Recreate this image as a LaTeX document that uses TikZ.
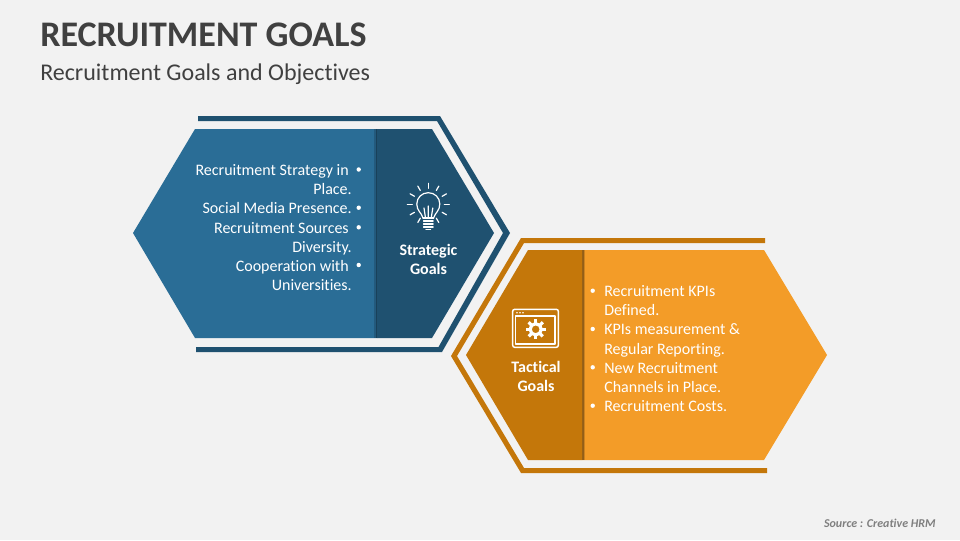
\documentclass[tikz,border=0pt]{standalone}
\usepackage{fontspec}
\setmainfont{Carlito}[Ligatures=NoCommon]
\usetikzlibrary{calc}
\definecolor{pagegray}{HTML}{F2F2F2}
\definecolor{bluelight}{HTML}{2A6D96}
\definecolor{bluedark}{HTML}{1F5170}
\definecolor{orangelight}{HTML}{F39C28}
\definecolor{orangedark}{HTML}{C4770A}
\definecolor{titlegray}{HTML}{404040}
\definecolor{sourcegray}{HTML}{7F7F7F}
\tikzset{
	itemtext/.style={text=white,font=\fontsize{12}{14}\selectfont,inner sep=0pt},
	headtext/.style={text=white,font=\fontsize{12}{14}\selectfont\bfseries,inner sep=0pt,anchor=base},
	icon/.style={draw=white,line width=0.9pt,line cap=round,line join=round},
}
\begin{document}
\begin{tikzpicture}[x=0.75pt,y=-0.75pt]
		\useasboundingbox (0,0) rectangle (960,540);
		\fill[pagegray] (0,0) rectangle (960,540);
		%
		\node[anchor=base west,inner sep=0pt,text=titlegray,font=\fontsize{27}{30}\selectfont\bfseries] (title) at (40,46) {RECRUITMENT GOALS};
		\node[anchor=base west,inner sep=0pt,text=titlegray,font=\fontsize{18}{22}\selectfont] (subtitle) at (40,80.7) {Recruitment Goals and Objectives};
		\node[anchor=base east,inner sep=0pt,text=sourcegray,font=\fontsize{9}{10}\selectfont\bfseries\itshape] (source) at (936,527) {Source : Creative HRM};
		%
		% blue hexagon
		\fill[bluedark] (198,116) -- (440,116) -- (510,233) -- (442,352) -- (196,352) -- (196,347) -- (438.5,347) -- (503,233) -- (437,121) -- (198,121) -- cycle;
		\fill[bluelight] (133,233) -- (195,129) -- (377,129) -- (377,338) -- (195,338) -- cycle;
		\fill[black!55!bluelight,opacity=0.3] (374,129) rectangle (377,338);
		\fill[black!55!bluelight,opacity=0.6] (375.5,129) rectangle (377,338);
		\fill[bluedark] (377,129) -- (432,129) -- (494,233) -- (432,338) -- (377,338) -- cycle;
		%
		% orange hexagon
		\fill[orangedark] (765,238) -- (521,238) -- (451,356) -- (521,473) -- (767,473) -- (767,468) -- (524,468) -- (457,356) -- (524,243) -- (765,243) -- cycle;
		\fill[orangelight] (582,250) -- (764,250) -- (827,355) -- (764,460) -- (582,460) -- cycle;
		\fill[black!55!orangelight,opacity=0.3] (582,250) rectangle (585,460);
		\fill[black!55!orangelight,opacity=0.6] (582,250) rectangle (583.5,460);
		\fill[orangedark] (466,355) -- (528,250) -- (582,250) -- (582,460) -- (528,460) -- cycle;
		%
		% blue texts
		\node[itemtext,anchor=base east] (s1) at (349,175) {Recruitment Strategy in};
		\node[itemtext,anchor=base east] (s2) at (352,194) {Place.};
		\node[itemtext,anchor=base east] (s3) at (352,213) {Social Media Presence.};
		\node[itemtext,anchor=base east] (s4) at (349,233) {Recruitment Sources};
		\node[itemtext,anchor=base east] (s5) at (352,252) {Diversity.};
		\node[itemtext,anchor=base east] (s6) at (349,271.5) {Cooperation with};
		\node[itemtext,anchor=base east] (s7) at (352,290) {Universities.};
		\foreach \y in {169.5,207.7,227.3,265}
		\fill[white] (358.7,\y) circle (2.2);
		\node[headtext] (strategic) at (428.5,255) {Strategic};
		\node[headtext] (goalsA) at (428.5,274) {Goals};
		%
		% orange texts
		\node[itemtext,anchor=base west] (t1) at (604,296) {Recruitment KPIs};
		\node[itemtext,anchor=base west] (t2) at (604,315) {Defined.};
		\node[itemtext,anchor=base west] (t3) at (604,334.3) {KPIs measurement \&};
		\node[itemtext,anchor=base west] (t4) at (604,354) {Regular Reporting.};
		\node[itemtext,anchor=base west] (t5) at (604,373.3) {New Recruitment};
		\node[itemtext,anchor=base west] (t6) at (604,392.3) {Channels in Place.};
		\node[itemtext,anchor=base west] (t7) at (604,411) {Recruitment Costs.};
		\foreach \y in {290.7,329,367.3,405.7}
		\fill[white] (592.7,\y) circle (2.2);
		\node[headtext] (tactical) at (536,372.3) {Tactical};
		\node[headtext] (goalsB) at (536,391) {Goals};
		%
		% bulb icon
		\draw[icon] (423,218) .. controls (421.5,212.5) and (416.8,211) .. (416.8,204) .. controls (416.8,197.5) and (422,192.7) .. (428.3,192.7) .. controls (434.6,192.7) and (439.8,197.5) .. (439.8,204) .. controls (439.8,211) and (435.1,212.5) .. (433.6,218);
		\draw[icon] (425.5,218) -- (424,208) (428.3,218) -- (428.3,206) (431.2,218) -- (432.8,208);
		\draw[icon] (423,218) -- (433.6,218) (423.5,221) -- (433.1,221) (423.5,224) -- (433.1,224) (423.5,227) -- (433.1,227) (426,229.5) -- (430.6,229.5);
		\foreach \a in {0,30,60,120,150,180,210,240,270,300,330}
		\draw[icon] ($(428.3,204.3)+(\a:16)$) -- ($(428.3,204.3)+(\a:21)$);
		%
		% window icon
		\draw[icon,line width=1.1pt,rounded corners=1.5pt] (512.7,309.3) rectangle (558.3,347.3);
		\draw[icon] (515.7,316) rectangle (555,344);
		\foreach \x in {517,520,523}
		\fill[white] (\x,312.7) circle (0.9);
		\draw[white,line width=2.4pt] (535.7,329.3) circle (5.6);
		\foreach \a in {0,45,...,315}
		\draw[white,line width=2.4pt] ($(535.7,329.3)+(\a:6)$) -- ($(535.7,329.3)+(\a:10)$);
		\end{tikzpicture}
\end{document}
